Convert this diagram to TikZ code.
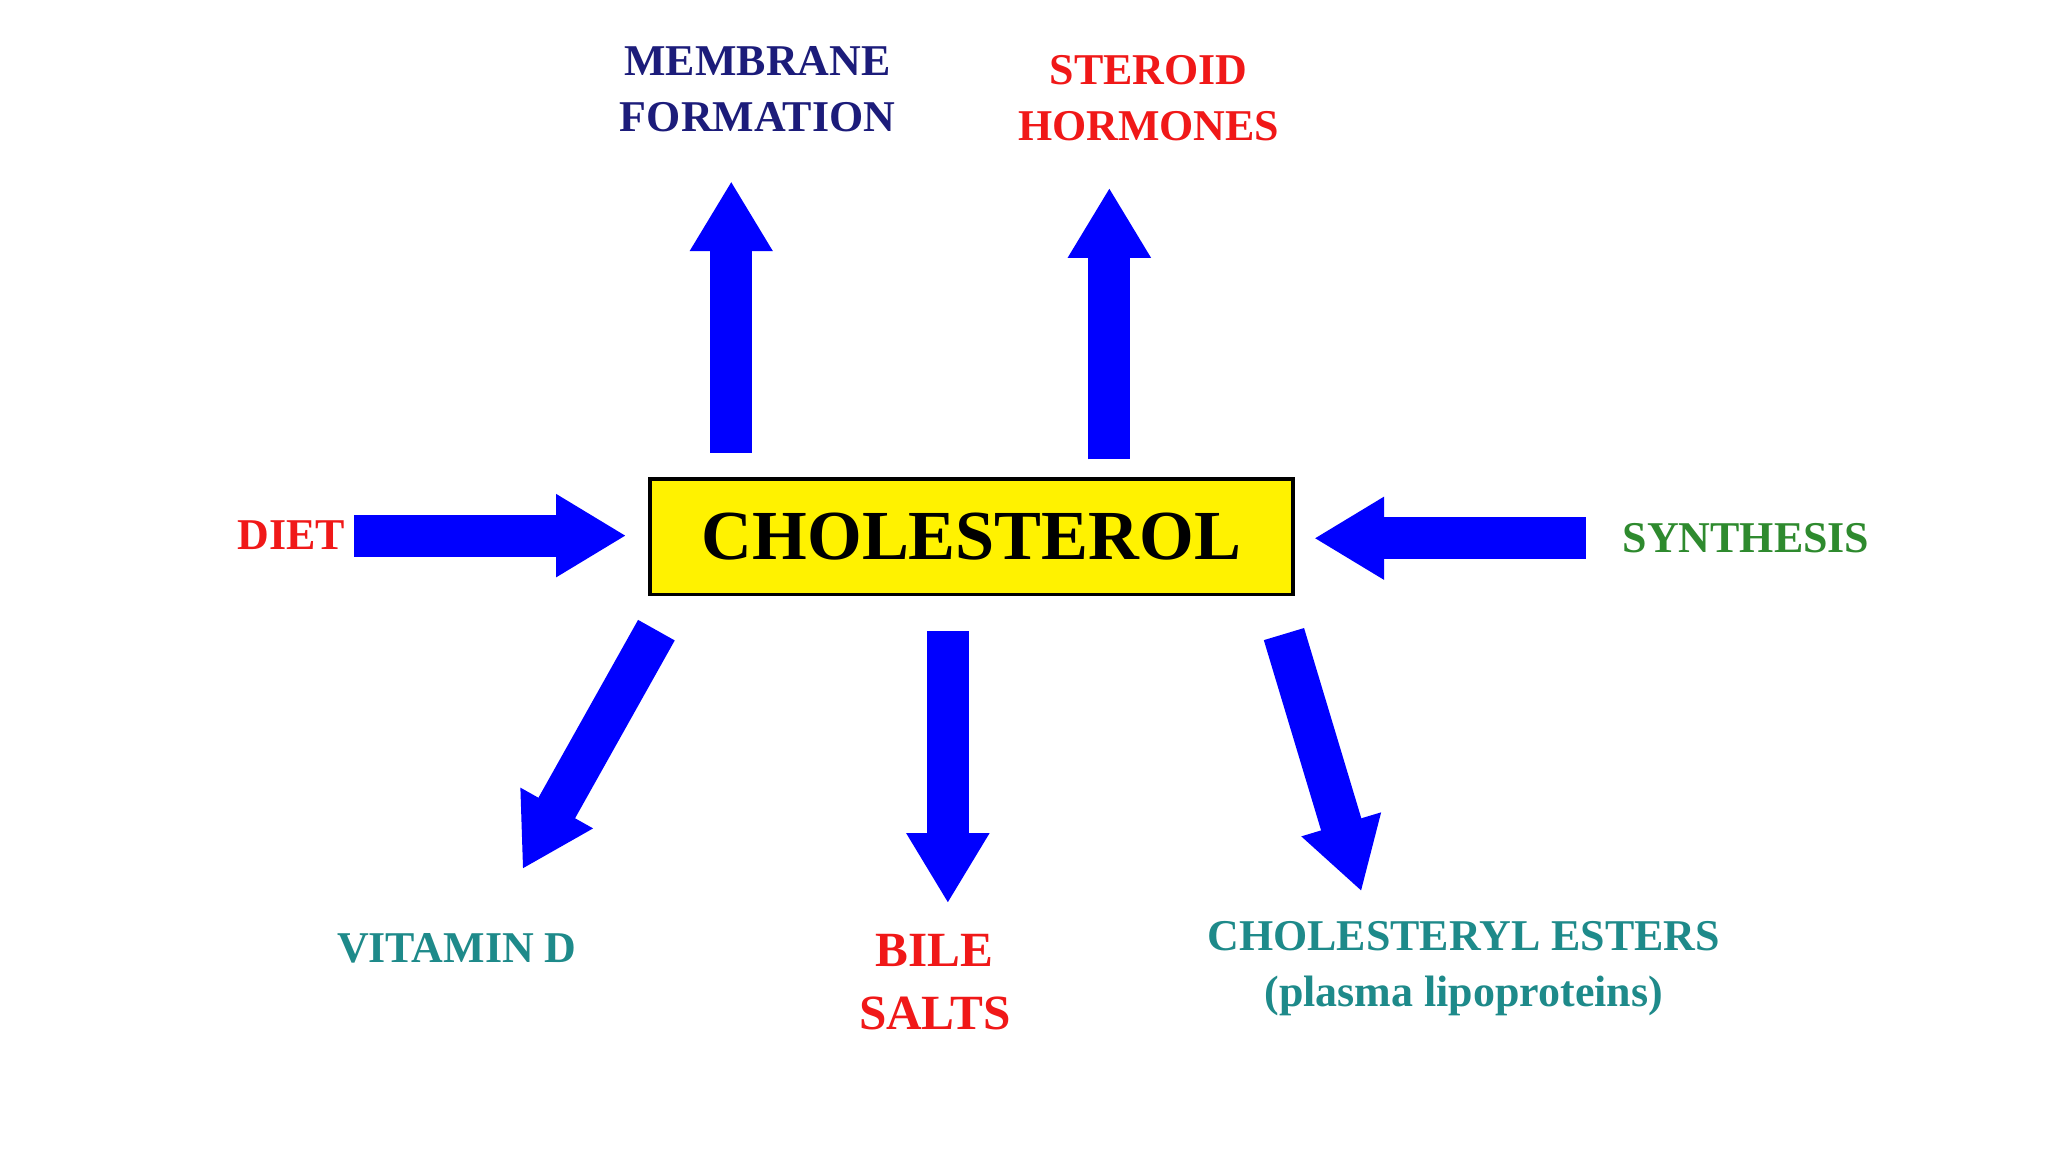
\documentclass[tikz,border=0pt]{standalone}
\usepackage{fontspec}
\setmainfont{Liberation Serif}
\usetikzlibrary{arrows.meta}
\definecolor{navy}{HTML}{1C1C7A}
\definecolor{myred}{HTML}{F01818}
\definecolor{mygreen}{HTML}{2E8A2E}
\definecolor{myteal}{HTML}{1E8A8A}
\begin{document}
\begin{tikzpicture}[x=0.01313cm,y=-0.01313cm,
  lbl/.style={font=\bfseries\fontsize{12.5}{16}\selectfont,align=center,inner sep=0},
  fat/.style={draw=blue,line width=0.42cm,-{Triangle[length=0.70cm,width=0.78cm]}}]
\useasboundingbox (0,0) rectangle (1560,877);
\node[draw=black,line width=1pt,fill=yellow,minimum width=490*0.01313cm,minimum height=88*0.01313cm,font=\bfseries\fontsize{20}{24}\selectfont] (chol) at (740,409) {CHOLESTEROL};
\node[lbl,text=myred] (diet) at (222,408) {DIET};
\node[lbl,text=mygreen] (syn) at (1330,410) {SYNTHESIS};
\node[lbl,text=navy] (mem) at (577,68) {MEMBRANE\\FORMATION};
\node[lbl,text=myred] (ster) at (875,75) {STEROID\\HORMONES};
\node[lbl,text=myteal] (vit) at (348,722) {VITAMIN D};
\node[lbl,text=myred,font=\bfseries\fontsize{14}{18}\selectfont] (bile) at (712,748) {BILE\\SALTS};
\node[lbl,text=myteal] (est) at (1115,738) {CHOLESTERYL ESTERS\\(plasma lipoproteins)};
\coordinate (a1s) at (270,408); \coordinate (a1e) at (477,408);
\coordinate (a2s) at (1208,410); \coordinate (a2e) at (1001,410);
\coordinate (a3s) at (557,345); \coordinate (a3e) at (557,138);
\coordinate (a4s) at (845,350); \coordinate (a4e) at (845,143);
\coordinate (a5s) at (722,481); \coordinate (a5e) at (722,688);
\coordinate (a6s) at (500,480); \coordinate (a6e) at (398,662);
\coordinate (a7s) at (978,483); \coordinate (a7e) at (1037,679);
\foreach \i in {1,...,7} \draw[fat] (a\i s) -- (a\i e);
\end{tikzpicture}
\end{document}
